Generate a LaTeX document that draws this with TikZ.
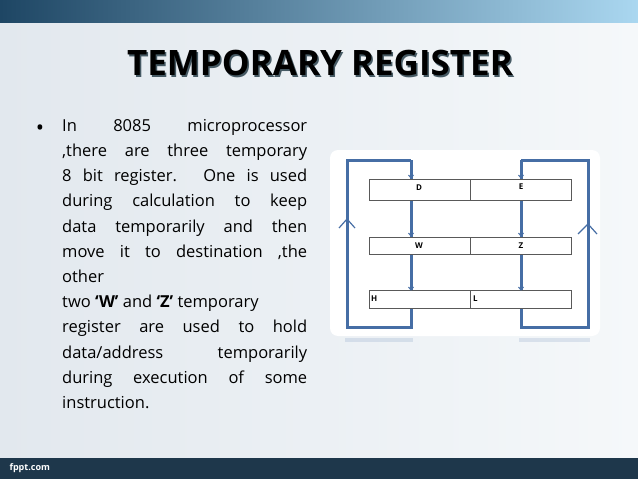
\documentclass[tikz,border=0pt]{standalone}
\usepackage{fontspec}
\setmainfont{Open Sans}
\definecolor{busc}{RGB}{70,110,165}
\definecolor{bg1}{RGB}{226,232,238}
\definecolor{bg2}{RGB}{245,248,250}
\definecolor{top1}{RGB}{30,70,100}
\definecolor{top2}{RGB}{170,215,240}
\definecolor{foot}{RGB}{30,55,75}
\definecolor{shad}{RGB}{70,90,100}
\begin{document}
\begin{tikzpicture}[x=1pt,y=-1pt,
  reg/.style={draw=gray!70!black,line width=0.6pt,fill=white,inner sep=0pt,minimum width=101pt},
  bus/.style={draw=busc,line width=3pt},
  lab/.style={font=\bfseries\fontsize{8}{9}\selectfont,inner sep=0pt}]
\useasboundingbox (0,0) rectangle (638,479);
\shade[left color=bg1,right color=bg2] (0,0) rectangle (638,479);
\shade[left color=top1,right color=top2] (0,0) rectangle (638,22);
\fill[foot] (0,458) rectangle (638,479);
\node[anchor=west,text=white,font=\bfseries\fontsize{9}{10}\selectfont] (ft) at (6,468) {fppt.com};
\node[font=\bfseries\fontsize{35}{38}\selectfont] (t) at (320,64) {\rlap{\kern1.5pt\raisebox{-1.5pt}{\color{shad}TEMPORARY REGISTER}}TEMPORARY REGISTER};
\node[font=\fontsize{22}{22}\selectfont] (b) at (40,130) {•};
\node[anchor=north west,inner sep=0pt,text width=245pt,align=justify,font=\fontsize{16.5}{25.2}\selectfont] (body) at (62,119)
{In 8085 microprocessor\linebreak ,there are three temporary\linebreak 8 bit register. One is used\linebreak during calculation to keep\linebreak data temporarily and then\linebreak move it to destination ,the\linebreak other\newline two \textbf{‘W’} and \textbf{‘Z’} temporary\newline register are used to hold\linebreak data/address temporarily\linebreak during execution of some\linebreak instruction.\par};
\fill[white,rounded corners=8pt] (330,150) rectangle (600,336);
\coordinate (a1) at (347,160); \coordinate (a2) at (411,160);
\coordinate (a3) at (411,327); \coordinate (a4) at (347,327);
\coordinate (b1) at (521,160); \coordinate (b2) at (588,160);
\coordinate (b3) at (588,327); \coordinate (b4) at (521,327);
\draw[bus] (a2) -- (a1) -- (a4) -- (a3) -- (a2);
\draw[bus] (b1) -- (b2) -- (b3) -- (b4) -- (b1);
\node[reg,minimum height=21pt] (D) at (419.5,189.5) {};
\node[reg,minimum height=21pt] (E) at (520.5,189.5) {};
\node[reg,minimum height=17pt] (W) at (419.5,245.5) {};
\node[reg,minimum height=17pt] (Z) at (520.5,245.5) {};
\node[reg,minimum height=18pt] (H) at (419.5,299) {};
\node[reg,minimum height=18pt] (L) at (520.5,299) {};
\node[lab] (dl) at (419,188) {D}; \node[lab] (el) at (521,187) {E};
\node[lab] (wl) at (419,246) {W}; \node[lab] (zl) at (521,246) {Z};
\node[lab,anchor=west] (hl) at (371,299) {H}; \node[lab,anchor=west] (ll) at (473,299) {L};
\foreach \x in {411,521} {
  \foreach \y in {178,236,290} {\draw[busc,line width=1pt] (\x-2.5,\y-3) -- (\x,\y) -- (\x+2.5,\y-3);}
}
\draw[line width=1.2pt,busc] (339,228) -- (347,219) -- (355,228);
\draw[line width=1.2pt,busc] (578,234) -- (588,224) -- (597,234);
\fill[busc,opacity=0.15] (345,338) rectangle (413,342);
\fill[busc,opacity=0.15] (519,338) rectangle (590,342);
\end{tikzpicture}
\end{document}
